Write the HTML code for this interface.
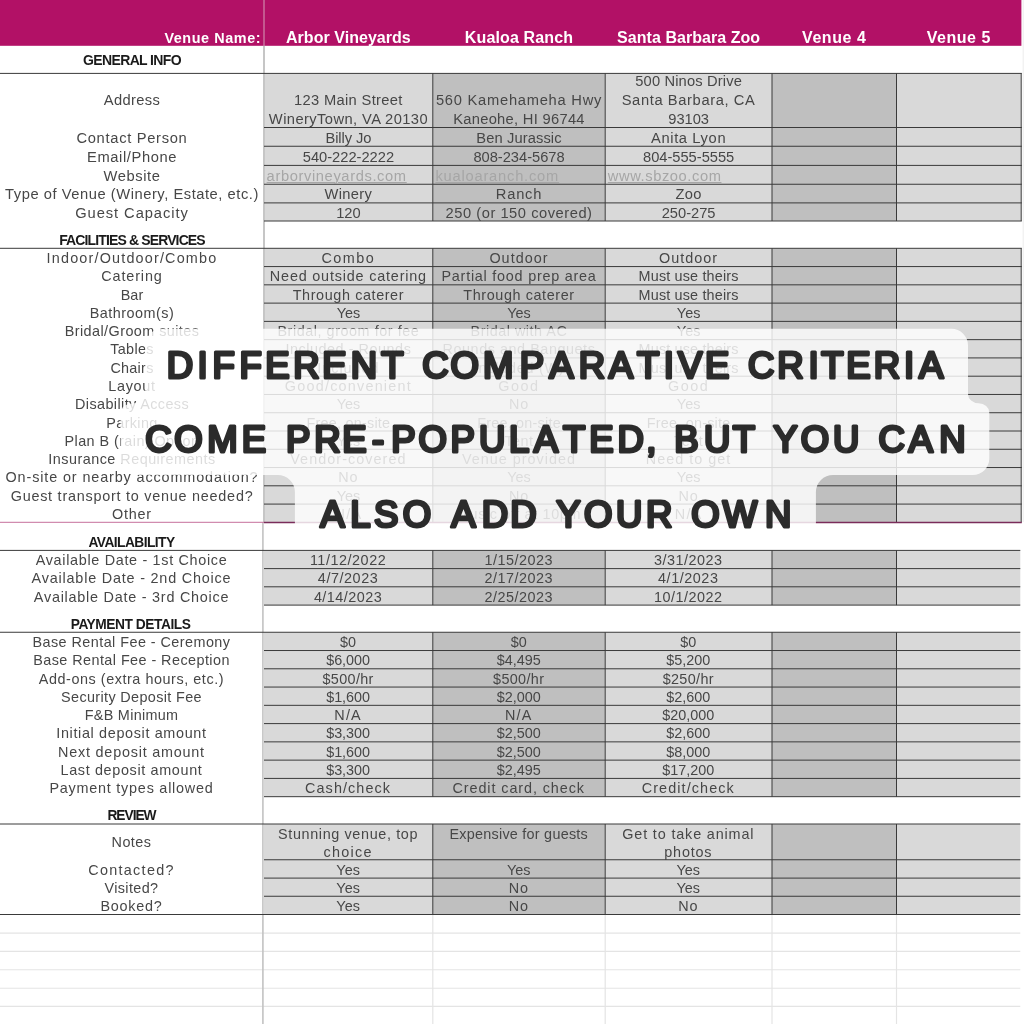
<!DOCTYPE html>
<html lang="en"><head><meta charset="utf-8"><title>Venue comparison spreadsheet</title>
<style>
html,body{margin:0;padding:0;background:#fff;}
body{width:1024px;height:1024px;position:relative;overflow:hidden;font-family:"Liberation Sans",Arial,sans-serif;}
svg{position:absolute;left:0;top:0;}
.t{position:absolute;color:#474747;white-space:pre;line-height:18px;height:18px;}
.b{font-weight:bold;}
.u{text-decoration:underline;text-decoration-thickness:1px;text-underline-offset:1px;}
#ov text{font-family:"Liberation Sans",Arial,sans-serif;font-size:36.5px;font-weight:normal;fill:#2b2b2b;stroke:#2b2b2b;stroke-width:3.1;stroke-linejoin:round;stroke-linecap:round;}
</style></head><body>
<svg id="bg" width="1024" height="1024" viewBox="0 0 1024 1024">
<rect x="0" y="0" width="1021.4000000000001" height="45.8" fill="#b21166"/>
<rect x="264" y="73.4" width="168.8" height="147.6" fill="#d9d9d9"/>
<rect x="432.8" y="73.4" width="172.4" height="147.6" fill="#bfbfbf"/>
<rect x="605.2" y="73.4" width="166.8" height="147.6" fill="#d9d9d9"/>
<rect x="772" y="73.4" width="124.5" height="147.6" fill="#bfbfbf"/>
<rect x="896.5" y="73.4" width="124.7" height="147.6" fill="#d9d9d9"/>
<rect x="264" y="248.3" width="168.8" height="274.05" fill="#d9d9d9"/>
<rect x="432.8" y="248.3" width="172.4" height="274.05" fill="#bfbfbf"/>
<rect x="605.2" y="248.3" width="166.8" height="274.05" fill="#d9d9d9"/>
<rect x="772" y="248.3" width="124.5" height="274.05" fill="#bfbfbf"/>
<rect x="896.5" y="248.3" width="124.7" height="274.05" fill="#d9d9d9"/>
<rect x="264" y="550.4" width="168.8" height="54.7" fill="#d9d9d9"/>
<rect x="432.8" y="550.4" width="172.4" height="54.7" fill="#bfbfbf"/>
<rect x="605.2" y="550.4" width="166.8" height="54.7" fill="#d9d9d9"/>
<rect x="772" y="550.4" width="124.5" height="54.7" fill="#bfbfbf"/>
<rect x="896.5" y="550.4" width="123.8" height="54.7" fill="#d9d9d9"/>
<rect x="264" y="632.25" width="168.8" height="164.43" fill="#d9d9d9"/>
<rect x="432.8" y="632.25" width="172.4" height="164.43" fill="#bfbfbf"/>
<rect x="605.2" y="632.25" width="166.8" height="164.43" fill="#d9d9d9"/>
<rect x="772" y="632.25" width="124.5" height="164.43" fill="#bfbfbf"/>
<rect x="896.5" y="632.25" width="123.8" height="164.43" fill="#d9d9d9"/>
<rect x="264" y="824" width="168.8" height="90.5" fill="#d9d9d9"/>
<rect x="432.8" y="824" width="172.4" height="90.5" fill="#bfbfbf"/>
<rect x="605.2" y="824" width="166.8" height="90.5" fill="#d9d9d9"/>
<rect x="772" y="824" width="124.5" height="90.5" fill="#bfbfbf"/>
<rect x="896.5" y="824" width="123.8" height="90.5" fill="#d9d9d9"/>
<line x1="0" y1="933.1" x2="1020.3" y2="933.1" stroke="#e4e4e4" stroke-width="1.1"/>
<line x1="0" y1="951.4" x2="1020.3" y2="951.4" stroke="#e4e4e4" stroke-width="1.1"/>
<line x1="0" y1="969.75" x2="1020.3" y2="969.75" stroke="#e4e4e4" stroke-width="1.1"/>
<line x1="0" y1="988.25" x2="1020.3" y2="988.25" stroke="#e4e4e4" stroke-width="1.1"/>
<line x1="0" y1="1006.4" x2="1020.3" y2="1006.4" stroke="#e4e4e4" stroke-width="1.1"/>
<line x1="432.8" y1="915" x2="432.8" y2="1024" stroke="#e4e4e4" stroke-width="1.2"/>
<line x1="605.2" y1="915" x2="605.2" y2="1024" stroke="#e4e4e4" stroke-width="1.2"/>
<line x1="772" y1="915" x2="772" y2="1024" stroke="#e4e4e4" stroke-width="1.2"/>
<line x1="896.5" y1="915" x2="896.5" y2="1024" stroke="#e4e4e4" stroke-width="1.2"/>
<line x1="1023.2" y1="0" x2="1023.2" y2="522" stroke="#ececec" stroke-width="1"/>
<line x1="264.0" y1="0" x2="264.0" y2="522.4" stroke="#c6c6c6" stroke-width="2"/>
<rect x="263.0" y="0" width="2" height="45.8" fill="#c4588f"/>
<line x1="262.9" y1="522.4" x2="262.9" y2="1024" stroke="#c2c2c2" stroke-width="1.6"/>
<line x1="0" y1="73.4" x2="1021.8" y2="73.4" stroke="#3a3a3a" stroke-width="1.0"/>
<line x1="264" y1="127.5" x2="1021.8" y2="127.5" stroke="#3a3a3a" stroke-width="1.0"/>
<line x1="264" y1="146.25" x2="1021.8" y2="146.25" stroke="#3a3a3a" stroke-width="1.0"/>
<line x1="264" y1="165.4" x2="1021.8" y2="165.4" stroke="#3a3a3a" stroke-width="1.0"/>
<line x1="264" y1="184.25" x2="1021.8" y2="184.25" stroke="#3a3a3a" stroke-width="1.0"/>
<line x1="264" y1="202.9" x2="1021.8" y2="202.9" stroke="#3a3a3a" stroke-width="1.0"/>
<line x1="264" y1="221" x2="1021.8" y2="221" stroke="#3a3a3a" stroke-width="1.0"/>
<line x1="432.8" y1="73.4" x2="432.8" y2="221" stroke="#3a3a3a" stroke-width="1.0"/>
<line x1="605.2" y1="73.4" x2="605.2" y2="221" stroke="#3a3a3a" stroke-width="1.0"/>
<line x1="772" y1="73.4" x2="772" y2="221" stroke="#3a3a3a" stroke-width="1.0"/>
<line x1="896.5" y1="73.4" x2="896.5" y2="221" stroke="#3a3a3a" stroke-width="1.0"/>
<line x1="1021.2" y1="73.4" x2="1021.2" y2="221" stroke="#3a3a3a" stroke-width="1.0"/>
<line x1="0" y1="248.3" x2="1021.8" y2="248.3" stroke="#3a3a3a" stroke-width="1.0"/>
<line x1="264" y1="266.57" x2="1021.8" y2="266.57" stroke="#3a3a3a" stroke-width="1.0"/>
<line x1="264" y1="284.84" x2="1021.8" y2="284.84" stroke="#3a3a3a" stroke-width="1.0"/>
<line x1="264" y1="303.11" x2="1021.8" y2="303.11" stroke="#3a3a3a" stroke-width="1.0"/>
<line x1="264" y1="321.38" x2="1021.8" y2="321.38" stroke="#3a3a3a" stroke-width="1.0"/>
<line x1="264" y1="339.65" x2="1021.8" y2="339.65" stroke="#3a3a3a" stroke-width="1.0"/>
<line x1="264" y1="357.92" x2="1021.8" y2="357.92" stroke="#3a3a3a" stroke-width="1.0"/>
<line x1="264" y1="376.19" x2="1021.8" y2="376.19" stroke="#3a3a3a" stroke-width="1.0"/>
<line x1="264" y1="394.46" x2="1021.8" y2="394.46" stroke="#3a3a3a" stroke-width="1.0"/>
<line x1="264" y1="412.73" x2="1021.8" y2="412.73" stroke="#3a3a3a" stroke-width="1.0"/>
<line x1="264" y1="431" x2="1021.8" y2="431" stroke="#3a3a3a" stroke-width="1.0"/>
<line x1="264" y1="449.27" x2="1021.8" y2="449.27" stroke="#3a3a3a" stroke-width="1.0"/>
<line x1="264" y1="467.54" x2="1021.8" y2="467.54" stroke="#3a3a3a" stroke-width="1.0"/>
<line x1="264" y1="485.81" x2="1021.8" y2="485.81" stroke="#3a3a3a" stroke-width="1.0"/>
<line x1="264" y1="504.08" x2="1021.8" y2="504.08" stroke="#3a3a3a" stroke-width="1.0"/>
<line x1="432.8" y1="248.3" x2="432.8" y2="522.35" stroke="#3a3a3a" stroke-width="1.0"/>
<line x1="605.2" y1="248.3" x2="605.2" y2="522.35" stroke="#3a3a3a" stroke-width="1.0"/>
<line x1="772" y1="248.3" x2="772" y2="522.35" stroke="#3a3a3a" stroke-width="1.0"/>
<line x1="896.5" y1="248.3" x2="896.5" y2="522.35" stroke="#3a3a3a" stroke-width="1.0"/>
<line x1="1021.2" y1="248.3" x2="1021.2" y2="522.35" stroke="#3a3a3a" stroke-width="1.0"/>
<line x1="0" y1="550.4" x2="1020.3" y2="550.4" stroke="#3a3a3a" stroke-width="1.0"/>
<line x1="264" y1="568.6" x2="1020.3" y2="568.6" stroke="#3a3a3a" stroke-width="1.0"/>
<line x1="264" y1="586.8" x2="1020.3" y2="586.8" stroke="#3a3a3a" stroke-width="1.0"/>
<line x1="264" y1="605.1" x2="1020.3" y2="605.1" stroke="#3a3a3a" stroke-width="1.0"/>
<line x1="432.8" y1="550.4" x2="432.8" y2="605.1" stroke="#3a3a3a" stroke-width="1.0"/>
<line x1="605.2" y1="550.4" x2="605.2" y2="605.1" stroke="#3a3a3a" stroke-width="1.0"/>
<line x1="772" y1="550.4" x2="772" y2="605.1" stroke="#3a3a3a" stroke-width="1.0"/>
<line x1="896.5" y1="550.4" x2="896.5" y2="605.1" stroke="#3a3a3a" stroke-width="1.0"/>
<line x1="0" y1="632.25" x2="1020.3" y2="632.25" stroke="#3a3a3a" stroke-width="1.0"/>
<line x1="264" y1="650.52" x2="1020.3" y2="650.52" stroke="#3a3a3a" stroke-width="1.0"/>
<line x1="264" y1="668.79" x2="1020.3" y2="668.79" stroke="#3a3a3a" stroke-width="1.0"/>
<line x1="264" y1="687.06" x2="1020.3" y2="687.06" stroke="#3a3a3a" stroke-width="1.0"/>
<line x1="264" y1="705.33" x2="1020.3" y2="705.33" stroke="#3a3a3a" stroke-width="1.0"/>
<line x1="264" y1="723.6" x2="1020.3" y2="723.6" stroke="#3a3a3a" stroke-width="1.0"/>
<line x1="264" y1="741.87" x2="1020.3" y2="741.87" stroke="#3a3a3a" stroke-width="1.0"/>
<line x1="264" y1="760.14" x2="1020.3" y2="760.14" stroke="#3a3a3a" stroke-width="1.0"/>
<line x1="264" y1="778.41" x2="1020.3" y2="778.41" stroke="#3a3a3a" stroke-width="1.0"/>
<line x1="264" y1="796.68" x2="1020.3" y2="796.68" stroke="#3a3a3a" stroke-width="1.0"/>
<line x1="432.8" y1="632.25" x2="432.8" y2="796.68" stroke="#3a3a3a" stroke-width="1.0"/>
<line x1="605.2" y1="632.25" x2="605.2" y2="796.68" stroke="#3a3a3a" stroke-width="1.0"/>
<line x1="772" y1="632.25" x2="772" y2="796.68" stroke="#3a3a3a" stroke-width="1.0"/>
<line x1="896.5" y1="632.25" x2="896.5" y2="796.68" stroke="#3a3a3a" stroke-width="1.0"/>
<line x1="0" y1="824" x2="1020.3" y2="824" stroke="#3a3a3a" stroke-width="1.0"/>
<line x1="264" y1="859.75" x2="1020.3" y2="859.75" stroke="#3a3a3a" stroke-width="1.0"/>
<line x1="264" y1="878.1" x2="1020.3" y2="878.1" stroke="#3a3a3a" stroke-width="1.0"/>
<line x1="264" y1="896.25" x2="1020.3" y2="896.25" stroke="#3a3a3a" stroke-width="1.0"/>
<line x1="0" y1="914.5" x2="1020.3" y2="914.5" stroke="#3a3a3a" stroke-width="1.0"/>
<line x1="432.8" y1="824" x2="432.8" y2="914.5" stroke="#3a3a3a" stroke-width="1.0"/>
<line x1="605.2" y1="824" x2="605.2" y2="914.5" stroke="#3a3a3a" stroke-width="1.0"/>
<line x1="772" y1="824" x2="772" y2="914.5" stroke="#3a3a3a" stroke-width="1.0"/>
<line x1="896.5" y1="824" x2="896.5" y2="914.5" stroke="#3a3a3a" stroke-width="1.0"/>
<line x1="0" y1="522.3" x2="264.0" y2="522.3" stroke="#bf5f90" stroke-width="0.9"/>
<line x1="264.0" y1="522.5" x2="1021.8000000000001" y2="522.5" stroke="#7a2c5a" stroke-width="1.3"/>
</svg>
<div id="sheet">
<div class="t b" style="left:164.41px;top:29px;font-size:14.4px;letter-spacing:0.58px;color:#ffffff;">Venue Name:</div>
<div class="t b" style="left:286px;top:29px;font-size:16px;letter-spacing:0.04px;color:#ffffff;">Arbor Vineyards</div>
<div class="t b" style="left:464.76px;top:29px;font-size:16px;letter-spacing:0.15px;color:#ffffff;">Kualoa Ranch</div>
<div class="t b" style="left:617.08px;top:29px;font-size:16px;letter-spacing:0.05px;color:#ffffff;">Santa Barbara Zoo</div>
<div class="t b" style="left:802.09px;top:29px;font-size:16px;letter-spacing:0.55px;color:#ffffff;">Venue 4</div>
<div class="t b" style="left:926.69px;top:29px;font-size:16px;letter-spacing:0.55px;color:#ffffff;">Venue 5</div>
<div class="t b" style="left:83px;top:51px;font-size:14px;letter-spacing:-0.63px;color:#1a1a1a;">GENERAL INFO</div>
<div class="t b" style="left:59.2px;top:231px;font-size:14px;letter-spacing:-0.87px;color:#1a1a1a;">FACILITIES &amp; SERVICES</div>
<div class="t b" style="left:88.46px;top:534px;font-size:13.75px;letter-spacing:-0.55px;color:#1a1a1a;">AVAILABILITY</div>
<div class="t b" style="left:70.7px;top:616px;font-size:13.75px;letter-spacing:-0.45px;color:#1a1a1a;">PAYMENT DETAILS</div>
<div class="t b" style="left:107.44px;top:807px;font-size:13.75px;letter-spacing:-1.02px;color:#1a1a1a;">REVIEW</div>
<div class="t" style="left:103.8px;top:91px;font-size:14.7px;letter-spacing:0.36px;">Address</div>
<div class="t" style="left:293.97px;top:91px;font-size:14.7px;letter-spacing:0.34px;">123 Main Street</div>
<div class="t" style="left:268.86px;top:110px;font-size:14.7px;letter-spacing:0.42px;">WineryTown, VA 20130</div>
<div class="t" style="left:435.93px;top:91px;font-size:14.7px;letter-spacing:0.75px;">560 Kamehameha Hwy</div>
<div class="t" style="left:453.15px;top:110px;font-size:14.7px;letter-spacing:0.3px;">Kaneohe, HI 96744</div>
<div class="t" style="left:635.25px;top:72px;font-size:14.7px;letter-spacing:0.15px;">500 Ninos Drive</div>
<div class="t" style="left:621.69px;top:91px;font-size:14.7px;letter-spacing:0.62px;">Santa Barbara, CA</div>
<div class="t" style="left:668.24px;top:110px;font-size:14.7px;letter-spacing:-0.02px;">93103</div>
<div class="t" style="left:76.44px;top:129px;font-size:14.7px;letter-spacing:0.7px;">Contact Person</div>
<div class="t" style="left:325.44px;top:129px;font-size:14.7px;letter-spacing:-0.08px;">Billy Jo</div>
<div class="t" style="left:476.31px;top:129px;font-size:14.7px;letter-spacing:0.11px;">Ben Jurassic</div>
<div class="t" style="left:651.03px;top:129px;font-size:14.7px;letter-spacing:0.63px;">Anita Lyon</div>
<div class="t" style="left:87.08px;top:148px;font-size:14.7px;letter-spacing:0.6px;">Email/Phone</div>
<div class="t" style="left:302.8px;top:148px;font-size:14.7px;letter-spacing:-0.02px;">540-222-2222</div>
<div class="t" style="left:473.4px;top:148px;font-size:14.7px;letter-spacing:-0.02px;">808-234-5678</div>
<div class="t" style="left:643px;top:148px;font-size:14.7px;letter-spacing:-0.02px;">804-555-5555</div>
<div class="t" style="left:103.56px;top:167px;font-size:14.7px;letter-spacing:0.58px;">Website</div>
<div class="t u" style="left:266.6px;top:167px;font-size:14.7px;letter-spacing:0.62px;color:#a6a6a6;">arborvineyards.com</div>
<div class="t u" style="left:435.4px;top:167px;font-size:14.7px;letter-spacing:0.79px;color:#a6a6a6;">kualoaranch.com</div>
<div class="t u" style="left:607.8px;top:167px;font-size:14.7px;letter-spacing:0.58px;color:#a6a6a6;">www.sbzoo.com</div>
<div class="t" style="left:5.1px;top:185px;font-size:14.7px;letter-spacing:0.55px;">Type of Venue (Winery, Estate, etc.)</div>
<div class="t" style="left:324.46px;top:185px;font-size:14.7px;letter-spacing:0.36px;">Winery</div>
<div class="t" style="left:495.8px;top:185px;font-size:14.7px;letter-spacing:0.79px;">Ranch</div>
<div class="t" style="left:675.44px;top:185px;font-size:14.7px;letter-spacing:0.33px;">Zoo</div>
<div class="t" style="left:75.28px;top:204px;font-size:14.7px;letter-spacing:0.93px;">Guest Capacity</div>
<div class="t" style="left:336.18px;top:204px;font-size:14.7px;letter-spacing:-0.03px;">120</div>
<div class="t" style="left:445.57px;top:204px;font-size:14.7px;letter-spacing:0.53px;">250 (or 150 covered)</div>
<div class="t" style="left:661.73px;top:204px;font-size:14.7px;letter-spacing:-0.02px;">250-275</div>
<div class="t" style="left:46.6px;top:249px;font-size:14.4px;letter-spacing:1.18px;">Indoor/Outdoor/Combo</div>
<div class="t" style="left:321.45px;top:249px;font-size:14.4px;letter-spacing:1.5px;">Combo</div>
<div class="t" style="left:489.39px;top:249px;font-size:14.4px;letter-spacing:1.03px;">Outdoor</div>
<div class="t" style="left:658.99px;top:249px;font-size:14.4px;letter-spacing:1.03px;">Outdoor</div>
<div class="t" style="left:101.26px;top:267px;font-size:14.4px;letter-spacing:0.88px;">Catering</div>
<div class="t" style="left:269.87px;top:267px;font-size:14.4px;letter-spacing:0.81px;">Need outside catering</div>
<div class="t" style="left:441.46px;top:267px;font-size:14.4px;letter-spacing:0.76px;">Partial food prep area</div>
<div class="t" style="left:638.62px;top:267px;font-size:14.4px;letter-spacing:0.16px;">Must use theirs</div>
<div class="t" style="left:120.78px;top:286px;font-size:14.4px;letter-spacing:0.01px;">Bar</div>
<div class="t" style="left:292.74px;top:286px;font-size:14.4px;letter-spacing:0.6px;">Through caterer</div>
<div class="t" style="left:463.34px;top:286px;font-size:14.4px;letter-spacing:0.6px;">Through caterer</div>
<div class="t" style="left:638.62px;top:286px;font-size:14.4px;letter-spacing:0.16px;">Must use theirs</div>
<div class="t" style="left:89.66px;top:304px;font-size:14.4px;letter-spacing:0.5px;">Bathroom(s)</div>
<div class="t" style="left:336.66px;top:304px;font-size:14.4px;letter-spacing:-0px;">Yes</div>
<div class="t" style="left:507.26px;top:304px;font-size:14.4px;letter-spacing:-0px;">Yes</div>
<div class="t" style="left:676.86px;top:304px;font-size:14.4px;letter-spacing:-0px;">Yes</div>
<div class="t" style="left:64.67px;top:322px;font-size:14.4px;letter-spacing:0.44px;">Bridal/Groom suites</div>
<div class="t" style="left:277.43px;top:322px;font-size:14.4px;letter-spacing:0.55px;">Bridal, groom for fee</div>
<div class="t" style="left:470.54px;top:322px;font-size:14.4px;letter-spacing:0.52px;">Bridal with AC</div>
<div class="t" style="left:676.86px;top:322px;font-size:14.4px;letter-spacing:-0px;">Yes</div>
<div class="t" style="left:110.19px;top:340px;font-size:14.4px;letter-spacing:0.33px;">Tables</div>
<div class="t" style="left:285.4px;top:340px;font-size:14.4px;letter-spacing:0.54px;">Included - Rounds</div>
<div class="t" style="left:442.54px;top:340px;font-size:14.4px;letter-spacing:0.55px;">Rounds and Banquets</div>
<div class="t" style="left:638.62px;top:340px;font-size:14.4px;letter-spacing:0.16px;">Must use theirs</div>
<div class="t" style="left:110.44px;top:359px;font-size:14.4px;letter-spacing:0.26px;">Chairs</div>
<div class="t" style="left:317.36px;top:359px;font-size:14.4px;letter-spacing:0.96px;">Included</div>
<div class="t" style="left:473.74px;top:359px;font-size:14.4px;letter-spacing:0.75px;">Included (W)</div>
<div class="t" style="left:638.62px;top:359px;font-size:14.4px;letter-spacing:0.16px;">Must use theirs</div>
<div class="t" style="left:108.36px;top:377px;font-size:14.4px;letter-spacing:0.68px;">Layout</div>
<div class="t" style="left:284.83px;top:377px;font-size:14.4px;letter-spacing:1.22px;">Good/convenient</div>
<div class="t" style="left:498.36px;top:377px;font-size:14.4px;letter-spacing:1.52px;">Good</div>
<div class="t" style="left:667.96px;top:377px;font-size:14.4px;letter-spacing:1.52px;">Good</div>
<div class="t" style="left:75.06px;top:395px;font-size:14.4px;letter-spacing:0.4px;">Disability Access</div>
<div class="t" style="left:336.66px;top:395px;font-size:14.4px;letter-spacing:-0px;">Yes</div>
<div class="t" style="left:508.96px;top:395px;font-size:14.4px;letter-spacing:0.84px;">No</div>
<div class="t" style="left:676.86px;top:395px;font-size:14.4px;letter-spacing:-0px;">Yes</div>
<div class="t" style="left:106.36px;top:414px;font-size:14.4px;letter-spacing:0.35px;">Parking</div>
<div class="t" style="left:306.54px;top:414px;font-size:14.4px;letter-spacing:0.23px;">Free, on-site</div>
<div class="t" style="left:477.14px;top:414px;font-size:14.4px;letter-spacing:0.23px;">Free, on-site</div>
<div class="t" style="left:646.74px;top:414px;font-size:14.4px;letter-spacing:0.23px;">Free, on-site</div>
<div class="t" style="left:64.49px;top:432px;font-size:14.4px;letter-spacing:0.43px;">Plan B (rain) Option</div>
<div class="t" style="left:336.66px;top:432px;font-size:14.4px;letter-spacing:-0px;">Yes</div>
<div class="t" style="left:504.42px;top:432px;font-size:14.4px;letter-spacing:0.49px;">Tent</div>
<div class="t" style="left:674.02px;top:432px;font-size:14.4px;letter-spacing:0.49px;">Tent</div>
<div class="t" style="left:48.31px;top:450px;font-size:14.4px;letter-spacing:0.48px;">Insurance Requirements</div>
<div class="t" style="left:290.25px;top:450px;font-size:14.4px;letter-spacing:1.05px;">Vendor-covered</div>
<div class="t" style="left:462.06px;top:450px;font-size:14.4px;letter-spacing:0.99px;">Venue provided</div>
<div class="t" style="left:645.87px;top:450px;font-size:14.4px;letter-spacing:1.01px;">Need to get</div>
<div class="t" style="left:5.55px;top:468px;font-size:14.4px;letter-spacing:0.88px;">On-site or nearby accommodation?</div>
<div class="t" style="left:338.36px;top:468px;font-size:14.4px;letter-spacing:0.84px;">No</div>
<div class="t" style="left:507.26px;top:468px;font-size:14.4px;letter-spacing:-0px;">Yes</div>
<div class="t" style="left:676.86px;top:468px;font-size:14.4px;letter-spacing:-0px;">Yes</div>
<div class="t" style="left:10.68px;top:487px;font-size:14.4px;letter-spacing:0.76px;">Guest transport to venue needed?</div>
<div class="t" style="left:336.66px;top:487px;font-size:14.4px;letter-spacing:-0px;">Yes</div>
<div class="t" style="left:508.96px;top:487px;font-size:14.4px;letter-spacing:0.84px;">No</div>
<div class="t" style="left:678.56px;top:487px;font-size:14.4px;letter-spacing:0.84px;">No</div>
<div class="t" style="left:112.06px;top:505px;font-size:14.4px;letter-spacing:0.77px;">Other</div>
<div class="t" style="left:334.6px;top:505px;font-size:14.4px;letter-spacing:1.2px;">N/A</div>
<div class="t" style="left:456.89px;top:505px;font-size:14.4px;letter-spacing:0.64px;">Music off at 10pm</div>
<div class="t" style="left:674.8px;top:505px;font-size:14.4px;letter-spacing:1.2px;">N/A</div>
<div class="t" style="left:35.71px;top:551px;font-size:14.4px;letter-spacing:0.68px;">Available Date - 1st Choice</div>
<div class="t" style="left:309.9px;top:551px;font-size:14.4px;letter-spacing:0.54px;">11/12/2022</div>
<div class="t" style="left:484.49px;top:551px;font-size:14.4px;letter-spacing:0.49px;">1/15/2023</div>
<div class="t" style="left:654.09px;top:551px;font-size:14.4px;letter-spacing:0.49px;">3/31/2023</div>
<div class="t" style="left:31.62px;top:569px;font-size:14.4px;letter-spacing:0.8px;">Available Date - 2nd Choice</div>
<div class="t" style="left:317.87px;top:569px;font-size:14.4px;letter-spacing:0.55px;">4/7/2023</div>
<div class="t" style="left:484.49px;top:569px;font-size:14.4px;letter-spacing:0.49px;">2/17/2023</div>
<div class="t" style="left:658.07px;top:569px;font-size:14.4px;letter-spacing:0.55px;">4/1/2023</div>
<div class="t" style="left:33.85px;top:588px;font-size:14.4px;letter-spacing:0.76px;">Available Date - 3rd Choice</div>
<div class="t" style="left:313.89px;top:588px;font-size:14.4px;letter-spacing:0.49px;">4/14/2023</div>
<div class="t" style="left:484.49px;top:588px;font-size:14.4px;letter-spacing:0.49px;">2/25/2023</div>
<div class="t" style="left:654.09px;top:588px;font-size:14.4px;letter-spacing:0.49px;">10/1/2022</div>
<div class="t" style="left:32.41px;top:633px;font-size:14.4px;letter-spacing:0.45px;">Base Rental Fee - Ceremony</div>
<div class="t" style="left:340.12px;top:633px;font-size:14.4px;letter-spacing:-0.03px;">$0</div>
<div class="t" style="left:510.72px;top:633px;font-size:14.4px;letter-spacing:-0.03px;">$0</div>
<div class="t" style="left:680.32px;top:633px;font-size:14.4px;letter-spacing:-0.03px;">$0</div>
<div class="t" style="left:33.23px;top:651px;font-size:14.4px;letter-spacing:0.44px;">Base Rental Fee - Reception</div>
<div class="t" style="left:326.16px;top:651px;font-size:14.4px;letter-spacing:-0.02px;">$6,000</div>
<div class="t" style="left:496.76px;top:651px;font-size:14.4px;letter-spacing:-0.02px;">$4,495</div>
<div class="t" style="left:666.36px;top:651px;font-size:14.4px;letter-spacing:-0.02px;">$5,200</div>
<div class="t" style="left:38.84px;top:670px;font-size:14.4px;letter-spacing:0.55px;">Add-ons (extra hours, etc.)</div>
<div class="t" style="left:322.44px;top:670px;font-size:14.4px;letter-spacing:0.36px;">$500/hr</div>
<div class="t" style="left:493.04px;top:670px;font-size:14.4px;letter-spacing:0.36px;">$500/hr</div>
<div class="t" style="left:662.64px;top:670px;font-size:14.4px;letter-spacing:0.36px;">$250/hr</div>
<div class="t" style="left:61.11px;top:688px;font-size:14.4px;letter-spacing:0.36px;">Security Deposit Fee</div>
<div class="t" style="left:326.16px;top:688px;font-size:14.4px;letter-spacing:-0.02px;">$1,600</div>
<div class="t" style="left:496.76px;top:688px;font-size:14.4px;letter-spacing:-0.02px;">$2,000</div>
<div class="t" style="left:666.36px;top:688px;font-size:14.4px;letter-spacing:-0.02px;">$2,600</div>
<div class="t" style="left:84.66px;top:706px;font-size:14.4px;letter-spacing:0.3px;">F&amp;B Minimum</div>
<div class="t" style="left:334.3px;top:706px;font-size:14.4px;letter-spacing:1.2px;">N/A</div>
<div class="t" style="left:504.9px;top:706px;font-size:14.4px;letter-spacing:1.2px;">N/A</div>
<div class="t" style="left:662.37px;top:706px;font-size:14.4px;letter-spacing:-0.03px;">$20,000</div>
<div class="t" style="left:56.3px;top:724px;font-size:14.4px;letter-spacing:0.65px;">Initial deposit amount</div>
<div class="t" style="left:326.16px;top:724px;font-size:14.4px;letter-spacing:-0.02px;">$3,300</div>
<div class="t" style="left:496.76px;top:724px;font-size:14.4px;letter-spacing:-0.02px;">$2,500</div>
<div class="t" style="left:666.36px;top:724px;font-size:14.4px;letter-spacing:-0.02px;">$2,600</div>
<div class="t" style="left:58.1px;top:743px;font-size:14.4px;letter-spacing:0.78px;">Next deposit amount</div>
<div class="t" style="left:326.16px;top:743px;font-size:14.4px;letter-spacing:-0.02px;">$1,600</div>
<div class="t" style="left:496.76px;top:743px;font-size:14.4px;letter-spacing:-0.02px;">$2,500</div>
<div class="t" style="left:666.36px;top:743px;font-size:14.4px;letter-spacing:-0.02px;">$8,000</div>
<div class="t" style="left:60.52px;top:761px;font-size:14.4px;letter-spacing:0.65px;">Last deposit amount</div>
<div class="t" style="left:326.16px;top:761px;font-size:14.4px;letter-spacing:-0.02px;">$3,300</div>
<div class="t" style="left:496.76px;top:761px;font-size:14.4px;letter-spacing:-0.02px;">$2,495</div>
<div class="t" style="left:662.37px;top:761px;font-size:14.4px;letter-spacing:-0.03px;">$17,200</div>
<div class="t" style="left:49.41px;top:779px;font-size:14.4px;letter-spacing:0.77px;">Payment types allowed</div>
<div class="t" style="left:304.99px;top:779px;font-size:14.4px;letter-spacing:1.1px;">Cash/check</div>
<div class="t" style="left:452.52px;top:779px;font-size:14.4px;letter-spacing:0.91px;">Credit card, check</div>
<div class="t" style="left:641.64px;top:779px;font-size:14.4px;letter-spacing:1.11px;">Credit/check</div>
<div class="t" style="left:111.54px;top:833px;font-size:14.4px;letter-spacing:0.46px;">Notes</div>
<div class="t" style="left:278.07px;top:825px;font-size:14.4px;letter-spacing:0.63px;">Stunning venue, top</div>
<div class="t" style="left:323.56px;top:843px;font-size:14.4px;letter-spacing:1.25px;">choice</div>
<div class="t" style="left:449.44px;top:825px;font-size:14.4px;letter-spacing:0.25px;">Expensive for guests</div>
<div class="t" style="left:622.25px;top:825px;font-size:14.4px;letter-spacing:0.85px;">Get to take animal</div>
<div class="t" style="left:664.33px;top:843px;font-size:14.4px;letter-spacing:0.79px;">photos</div>
<div class="t" style="left:88.21px;top:861px;font-size:14.4px;letter-spacing:1.3px;">Contacted?</div>
<div class="t" style="left:336.36px;top:861px;font-size:14.4px;letter-spacing:-0px;">Yes</div>
<div class="t" style="left:506.96px;top:861px;font-size:14.4px;letter-spacing:-0px;">Yes</div>
<div class="t" style="left:676.56px;top:861px;font-size:14.4px;letter-spacing:-0px;">Yes</div>
<div class="t" style="left:104.46px;top:879px;font-size:14.4px;letter-spacing:0.39px;">Visited?</div>
<div class="t" style="left:336.36px;top:879px;font-size:14.4px;letter-spacing:-0px;">Yes</div>
<div class="t" style="left:508.66px;top:879px;font-size:14.4px;letter-spacing:0.84px;">No</div>
<div class="t" style="left:676.56px;top:879px;font-size:14.4px;letter-spacing:-0px;">Yes</div>
<div class="t" style="left:100.45px;top:897px;font-size:14.4px;letter-spacing:0.75px;">Booked?</div>
<div class="t" style="left:336.36px;top:897px;font-size:14.4px;letter-spacing:-0px;">Yes</div>
<div class="t" style="left:508.66px;top:897px;font-size:14.4px;letter-spacing:0.84px;">No</div>
<div class="t" style="left:678.26px;top:897px;font-size:14.4px;letter-spacing:0.84px;">No</div>
</div>
<svg id="ov" width="1024" height="1024" viewBox="0 0 1024 1024">
<path d="M161.8 328.8 H951.5 A16.5 16.5 0 0 1 968.0 345.3 V394.0 A10.65 9.2 0 0 0 978.65 403.2 A10.65 9.2 0 0 1 989.3 412.4 V458.5 A16.5 16.5 0 0 1 972.8 475.0 H833.1 A17.2 17.2 0 0 0 815.9 492.2 V532.0 A16.5 16.5 0 0 1 799.4 548.5 H311.4 A16.5 16.5 0 0 1 294.9 532.0 V492.2 A17.2 17.2 0 0 0 277.7 475.0 H137.0 A16.5 16.5 0 0 1 120.5 458.5 V412.4 A12.4 9.2 0 0 1 132.9 403.2 A12.4 9.2 0 0 0 145.3 394.0 V345.3 A16.5 16.5 0 0 1 161.8 328.8 Z" fill="#ffffff" fill-opacity="0.81"/>
<text x="166.77 197.43 212.53 239.43 265.26 293.24 322.21 350.71 381.31 405.5 422.13 450.38 483 519.77 549.13 578.81 608.68 637.06 663.63 678.11 704.91 730.1 747.93 777.34 808.48 821.36 846.26 873.74 904.08 918.93" y="377.6">DIFFERENT COMPARATIVE CRITERIA</text>
<text x="145.18 174.18 207.35 241.86 267 286.02 314.19 342.31 372.1 391.27 418.38 450.62 479.01 508.96 533.73 563.06 589.16 617.62 646.31 657.3 674.17 704.01 732.76 757.1 773.33 800.68 832.96 859.4 878.4 908.45 939.16" y="452.1">COME PRE-POPULATED, BUT YOU CAN</text>
<text x="320.28 350.21 373.95 402.81 432.1 451.13 481.67 510.37 538.1 556.18 584.03 616.06 645.94 672.9 691.18 722.86 765.01" y="526.7">ALSO ADD YOUR OWN</text>
</svg>
</body></html>
